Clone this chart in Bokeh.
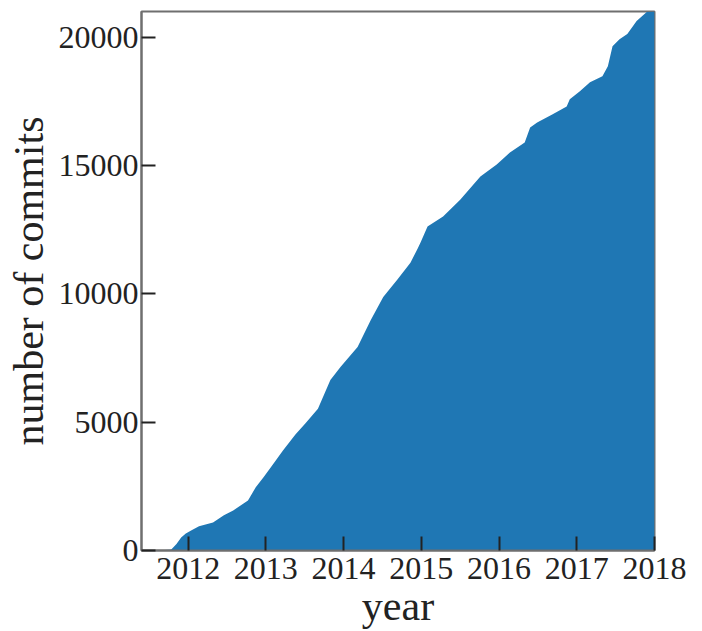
from bokeh.plotting import figure
from bokeh.models import Range1d, FixedTicker
from bokeh.embed import file_html
from bokeh.resources import INLINE

year = [2011.63, 2011.70, 2011.78, 2011.85, 2011.91, 2011.97, 2012.05, 2012.14, 2012.32,
        2012.46, 2012.58, 2012.77, 2012.87, 2012.97, 2013.09, 2013.22, 2013.38,
        2013.51, 2013.67, 2013.83, 2013.96, 2014.18, 2014.35, 2014.51, 2014.69,
        2014.86, 2014.95, 2014.99, 2015.08, 2015.28, 2015.50, 2015.76, 2015.97,
        2016.14, 2016.33, 2016.40, 2016.49, 2016.69, 2016.87, 2016.91, 2017.04,
        2017.17, 2017.33, 2017.40, 2017.46, 2017.55, 2017.65, 2017.77, 2017.90,
        2018.00]
commits = [0, 20, 30, 250, 508, 660, 800, 940, 1090,
           1370, 1560, 1950, 2460, 2850, 3350, 3900, 4520,
           4960, 5520, 6640, 7150, 7930, 8980, 9880, 10550,
           11210, 11750, 12000, 12620, 13010, 13670, 14570, 15040,
           15510, 15900, 16480, 16680, 17000, 17300, 17580, 17890,
           18240, 18480, 18870, 19650, 19920, 20120, 20630, 20980,
           21000]
year_ticks = [2012, 2013, 2014, 2015, 2016, 2017, 2018]
commit_ticks = [0, 5000, 10000, 15000, 20000]

FONT = "Liberation Serif"
TXT = "#222222"

p = figure(width=690, height=632, output_backend="svg", toolbar_location=None,
           x_range=Range1d(2011.40, 2018.0), y_range=Range1d(0, 21000),
           min_border_left=141, min_border_right=36, min_border_top=11,
           min_border_bottom=82)

p.varea(x=year, y1=0, y2=commits, fill_color="#1f77b4", fill_alpha=1.0)

p.xgrid.visible = False
p.ygrid.visible = False
p.outline_line_color = "#6f6f6f"
p.outline_line_width = 2
p.outline_line_alpha = 1.0

p.xaxis.ticker = FixedTicker(ticks=year_ticks)
p.yaxis.ticker = FixedTicker(ticks=commit_ticks)
p.xaxis.axis_label = "year"
p.yaxis.axis_label = "number of commits"

for ax in (p.xaxis, p.yaxis):
    ax.axis_line_color = "#6f6f6f"
    ax.axis_line_width = 2
    ax.major_tick_in = 14
    ax.major_tick_out = 0
    ax.major_tick_line_color = TXT
    ax.major_tick_line_width = 2
    ax.minor_tick_line_color = None
    ax.major_label_text_font = FONT
    ax.major_label_text_font_size = "32px"
    ax.major_label_text_color = TXT
    ax.major_label_text_line_height = 0.9
    ax.axis_label_text_font = FONT
    ax.axis_label_text_font_size = "42px"
    ax.axis_label_text_font_style = "normal"
    ax.axis_label_text_color = TXT
    ax.axis_label_text_line_height = 0.8

p.xaxis.major_label_standoff = 7
p.yaxis.major_label_standoff = 3
p.xaxis.axis_label_standoff = 1
p.yaxis.axis_label_standoff = 4

open("out.html", "w").write(file_html(p, INLINE))
